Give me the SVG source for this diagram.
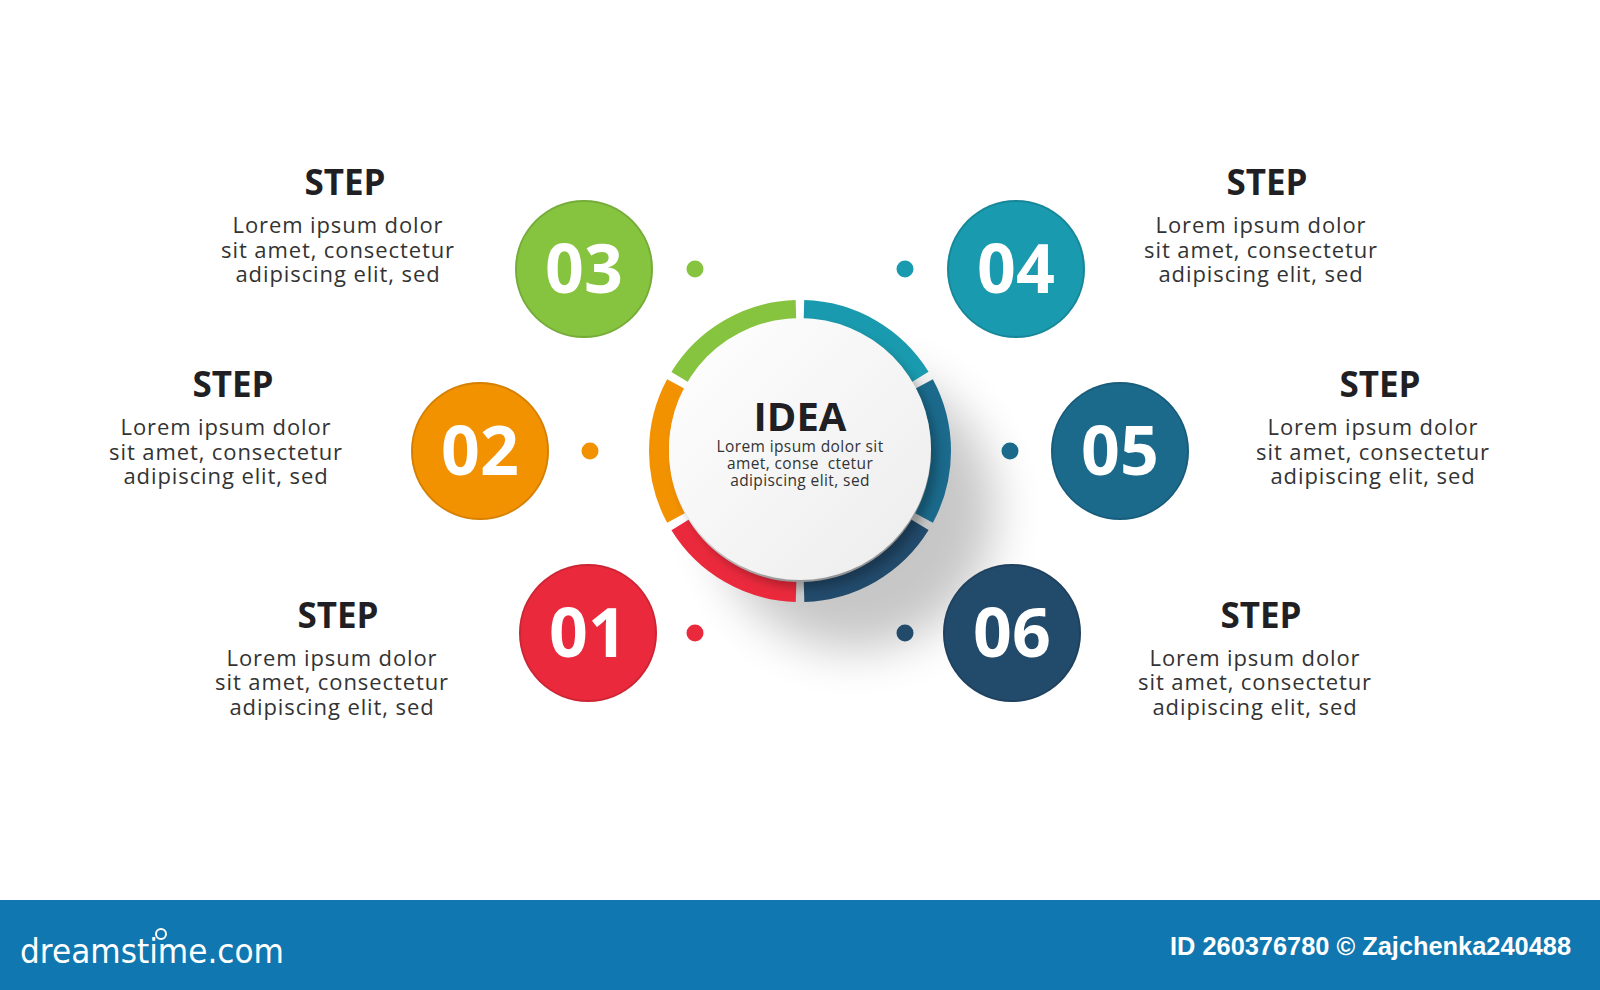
<svg xmlns="http://www.w3.org/2000/svg" width="1600" height="990" viewBox="0 0 1600 990">
<defs>
<style>
.step{font-family:"Open Sans","Liberation Sans",sans-serif;font-weight:700;font-size:35px;fill:#1f1f24;text-anchor:middle}
.lor{font-family:"Open Sans","Liberation Sans",sans-serif;font-size:22px;letter-spacing:0.9px;fill:#333;text-anchor:middle}
.num{font-family:"Open Sans","Liberation Sans",sans-serif;font-weight:700;font-size:68px;fill:#fff;text-anchor:middle}
.sm{font-family:"Open Sans","Liberation Sans",sans-serif;font-size:15.5px;letter-spacing:0.4px;fill:#333;text-anchor:middle}
.ring{fill:none;stroke-width:20;stroke-dasharray:139.6 1000}
.rim{fill:none;stroke:#000;stroke-opacity:0.12;stroke-width:2}
</style>
<filter id="blur" x="-50%" y="-50%" width="200%" height="200%"><feGaussianBlur stdDeviation="24"/></filter>
<filter id="sblur" x="-20%" y="-20%" width="140%" height="140%"><feGaussianBlur stdDeviation="5"/></filter>
<linearGradient id="wg" x1="0" y1="0" x2="1" y2="1">
<stop offset="0" stop-color="#ffffff"/><stop offset="1" stop-color="#ececec"/>
</linearGradient>
</defs>
<rect width="1600" height="990" fill="#fff"/>

<g id="center">
<circle cx="855" cy="510" r="140" fill="#000" opacity="0.22" filter="url(#blur)"/>
<circle class="ring" cx="800" cy="451" r="141" stroke="#1a9aae" transform="rotate(271.6 800 451)"/>
<circle class="ring" cx="800" cy="451" r="141" stroke="#1b6a8c" transform="rotate(331.6 800 451)"/>
<circle class="ring" cx="800" cy="451" r="141" stroke="#224a6b" transform="rotate(31.6 800 451)"/>
<circle class="ring" cx="800" cy="451" r="141" stroke="#ea2a3c" transform="rotate(91.6 800 451)"/>
<circle class="ring" cx="800" cy="451" r="141" stroke="#f39200" transform="rotate(151.6 800 451)"/>
<circle class="ring" cx="800" cy="451" r="141" stroke="#86c440" transform="rotate(211.6 800 451)"/>
<circle cx="806" cy="457" r="131" fill="#000" opacity="0.25" filter="url(#sblur)"/>
<circle cx="800" cy="449" r="131" fill="url(#wg)"/>
<text x="800" y="431" font-family="Open Sans, Liberation Sans, sans-serif" font-weight="700" font-size="40" fill="#1f1f24" text-anchor="middle">IDEA</text>
<text class="sm" x="800" y="452">Lorem ipsum dolor sit</text>
<text class="sm" x="800" y="469">amet, conse&#160; ctetur</text>
<text class="sm" x="800" y="486">adipiscing elit, sed</text>
</g>

<g id="connectors">
<circle cx="695" cy="269" r="8.5" fill="#86c440"/>
<circle cx="590" cy="451" r="8.5" fill="#f39200"/>
<circle cx="695" cy="633" r="8.5" fill="#ea2a3c"/>
<circle cx="905" cy="269" r="8.5" fill="#1a9aae"/>
<circle cx="1010" cy="451" r="8.5" fill="#1b6a8c"/>
<circle cx="905" cy="633" r="8.5" fill="#224a6b"/>
</g>

<g id="step03">
<circle cx="584" cy="269" r="69" fill="#86c440"/><circle class="rim" cx="584" cy="269" r="68"/>
<text class="num" x="584" y="293">03</text>
<text class="step" x="345" y="195">STEP</text>
<text class="lor" x="338" y="233">Lorem ipsum dolor</text>
<text class="lor" x="338" y="257.5">sit amet, consectetur</text>
<text class="lor" x="338" y="282">adipiscing elit, sed</text>
</g>

<g id="step02">
<circle cx="480" cy="451" r="69" fill="#f39200"/><circle class="rim" cx="480" cy="451" r="68"/>
<text class="num" x="480" y="475">02</text>
<text class="step" x="233" y="397">STEP</text>
<text class="lor" x="226" y="435">Lorem ipsum dolor</text>
<text class="lor" x="226" y="459.5">sit amet, consectetur</text>
<text class="lor" x="226" y="484">adipiscing elit, sed</text>
</g>

<g id="step01">
<circle cx="588" cy="633" r="69" fill="#ea2a3c"/><circle class="rim" cx="588" cy="633" r="68"/>
<text class="num" x="588" y="657">01</text>
<text class="step" x="338" y="627.5">STEP</text>
<text class="lor" x="332" y="665.5">Lorem ipsum dolor</text>
<text class="lor" x="332" y="690">sit amet, consectetur</text>
<text class="lor" x="332" y="714.5">adipiscing elit, sed</text>
</g>

<g id="step04">
<circle cx="1016" cy="269" r="69" fill="#1a9aae"/><circle class="rim" cx="1016" cy="269" r="68"/>
<text class="num" x="1016" y="293">04</text>
<text class="step" x="1267" y="195">STEP</text>
<text class="lor" x="1261" y="233">Lorem ipsum dolor</text>
<text class="lor" x="1261" y="257.5">sit amet, consectetur</text>
<text class="lor" x="1261" y="282">adipiscing elit, sed</text>
</g>

<g id="step05">
<circle cx="1120" cy="451" r="69" fill="#1b6a8c"/><circle class="rim" cx="1120" cy="451" r="68"/>
<text class="num" x="1120" y="475">05</text>
<text class="step" x="1380" y="397">STEP</text>
<text class="lor" x="1373" y="435">Lorem ipsum dolor</text>
<text class="lor" x="1373" y="459.5">sit amet, consectetur</text>
<text class="lor" x="1373" y="484">adipiscing elit, sed</text>
</g>

<g id="step06">
<circle cx="1012" cy="633" r="69" fill="#224a6b"/><circle class="rim" cx="1012" cy="633" r="68"/>
<text class="num" x="1012" y="657">06</text>
<text class="step" x="1261" y="627.5">STEP</text>
<text class="lor" x="1255" y="665.5">Lorem ipsum dolor</text>
<text class="lor" x="1255" y="690">sit amet, consectetur</text>
<text class="lor" x="1255" y="714.5">adipiscing elit, sed</text>
</g>

<g id="banner">
<rect x="0" y="900" width="1600" height="90" fill="#1077b0"/>
<text x="20" y="963" font-family="DejaVu Sans, sans-serif" font-size="33" fill="#fff" textLength="264" lengthAdjust="spacingAndGlyphs">dreamstime.com</text>
<circle cx="161" cy="934" r="5" fill="none" stroke="#fff" stroke-width="2"/>
<text x="1170" y="955" font-family="Liberation Sans, sans-serif" font-weight="700" font-size="26" fill="#fff" textLength="401" lengthAdjust="spacingAndGlyphs">ID 260376780 © Zajchenka240488</text>
</g>
</svg>
